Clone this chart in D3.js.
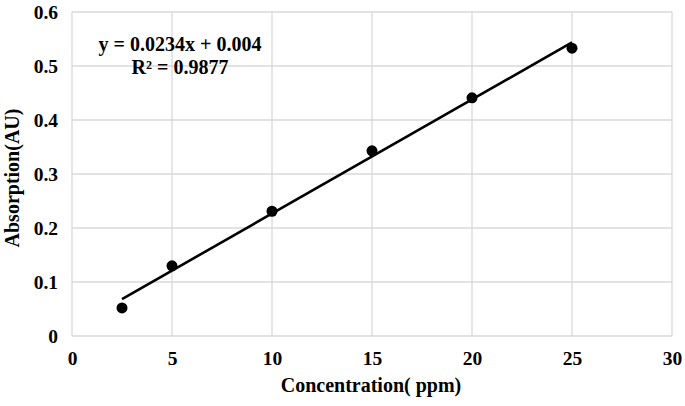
<!DOCTYPE html>
<html>
<head>
<meta charset="utf-8">
<script src="https://cdnjs.cloudflare.com/ajax/libs/d3/7.8.5/d3.min.js"></script>
<style>
  body { margin: 0; background: #fff; }
  text { font-family: "Liberation Serif", "Times New Roman", serif; font-weight: bold; fill: #000; }
</style>
</head>
<body>
<svg width="685" height="406"></svg>
<script>
// measured points
let concentration = [2.5, 5, 10, 15, 20, 25];
let absorption = [0.052, 0.130, 0.231, 0.343, 0.441, 0.533];
let xTicks = [0, 5, 10, 15, 20, 25, 30];
let yTicks = [0, 0.1, 0.2, 0.3, 0.4, 0.5, 0.6];

let svg = d3.select("svg");
let plotLeft = 72, plotRight = 672, plotTop = 12, plotBottom = 336;

let x = d3.scaleLinear().domain([0, 30]).range([plotLeft, plotRight]);
let y = d3.scaleLinear().domain([0, 0.6]).range([plotBottom, plotTop]);

// grid
svg.append("g").selectAll("line").data(xTicks).enter().append("line")
  .attr("x1", d => x(d)).attr("x2", d => x(d))
  .attr("y1", plotTop).attr("y2", plotBottom)
  .attr("stroke", "#d9d9d9").attr("stroke-width", 1.3);
svg.append("g").selectAll("line").data(yTicks).enter().append("line")
  .attr("x1", plotLeft).attr("x2", plotRight)
  .attr("y1", d => y(d)).attr("y2", d => y(d))
  .attr("stroke", "#d9d9d9").attr("stroke-width", 1.3);

// tick labels
let xAxis = svg.append("g").attr("transform", "translate(0," + plotBottom + ")")
  .call(d3.axisBottom(x).tickValues(xTicks).tickSize(0).tickPadding(15));
let yAxis = svg.append("g").attr("transform", "translate(" + plotLeft + ",0)")
  .call(d3.axisLeft(y).tickValues(yTicks).tickSize(0).tickPadding(14).tickFormat(d => d === 0 ? "0" : d3.format(".1f")(d)));
[xAxis, yAxis].forEach(a => {
  a.select(".domain").remove();
  a.selectAll("text").attr("font-size", 19.5).attr("font-family", null);
});

// least squares trendline
let n = concentration.length;
let mx = d3.mean(concentration), my = d3.mean(absorption);
let sxy = 0, sxx = 0;
for (let i = 0; i < n; i++) {
  sxy += (concentration[i] - mx) * (absorption[i] - my);
  sxx += (concentration[i] - mx) * (concentration[i] - mx);
}
let slope = sxy / sxx, icept = my - slope * mx;
let x0 = d3.min(concentration), x1 = d3.max(concentration);
svg.append("line")
  .attr("x1", x(x0)).attr("y1", y(slope * x0 + icept))
  .attr("x2", x(x1)).attr("y2", y(slope * x1 + icept))
  .attr("stroke", "#000").attr("stroke-width", 2.6);

// points
svg.append("g").selectAll("circle").data(concentration).enter().append("circle")
  .attr("cx", d => x(d))
  .attr("cy", (d, i) => y(absorption[i]))
  .attr("r", 5.5)
  .attr("fill", "#000");

// equation
svg.append("text").attr("x", 180).attr("y", 51).attr("text-anchor", "middle")
  .attr("font-size", 20).text("y = 0.0234x + 0.004");
svg.append("text").attr("x", 180).attr("y", 74).attr("text-anchor", "middle")
  .attr("font-size", 20).text("R² = 0.9877");

// axis titles
svg.append("text").attr("x", 371).attr("y", 392).attr("text-anchor", "middle")
  .attr("font-size", 20).text("Concentration( ppm)");
svg.append("text").attr("transform", "translate(19,178) rotate(-90)")
  .attr("text-anchor", "middle").attr("font-size", 20).text("Absorption(AU)");
</script>
</body>
</html>
